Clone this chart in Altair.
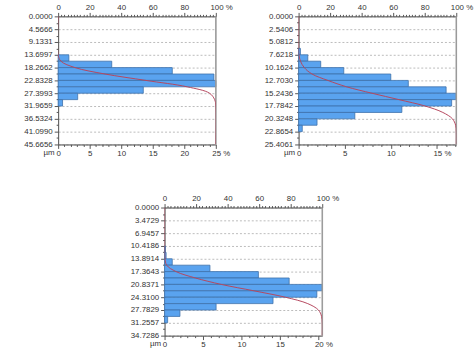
import altair as alt
import pandas as pd
import json

FONT = "Liberation Sans Narrow, Liberation Sans, Arial"

# ---------------- data ----------------
P1_TICKS = ["0.0000", "4.5666", "9.1331", "13.6997", "18.2662", "22.8328",
            "27.3993", "31.9659", "36.5324", "41.0990", "45.6656"]
P1_START = 6
P1_VALUES = [1.7, 8.5, 18.1, 24.7, 25.0, 13.5, 3.1, 0.7]
P1_XMAX = 25.0
P1_XLAST = 25

P2_TICKS = ["0.0000", "2.5406", "5.0812", "7.6218", "10.1624", "12.7030",
            "15.2436", "17.7842", "20.3248", "22.8654", "25.4061"]
P2_START = 5
P2_VALUES = [0.2, 1.0, 2.4, 4.9, 10.0, 11.9, 16.0, 17.1, 16.6, 11.2, 6.1, 2.0, 0.4]
P2_XMAX = 17.1
P2_XLAST = 15

P3_TICKS = ["0.0000", "3.4729", "6.9457", "10.4186", "13.8914", "17.3643",
            "20.8371", "24.3100", "27.7829", "31.2557", "34.7286"]
P3_START = 6
P3_VALUES = [0.1, 0.2, 1.0, 5.9, 12.2, 16.2, 20.5, 19.8, 14.1, 6.7, 2.0, 0.4]
P3_XMAX = 20.5
P3_XLAST = 20

CUM_TICKS = list(range(0, 101, 2))

W, H = 160, 130
LABEL = "#333333"
AXC = "#555555"


def panel(ticks, start, values, xmax, xlast):
    majors = [float(s) for s in ticks]
    edges = []
    for i in range(len(majors) - 1):
        edges.append(majors[i])
        edges.append((majors[i] + majors[i + 1]) / 2)
    edges.append(majors[-1])
    n = len(values)
    bars_df = pd.DataFrame({"lo": edges[start:start + n],
                            "hi": edges[start + 1:start + n + 1],
                            "pct": values})
    total = sum(values)
    cum = [0.0]
    for v in values:
        cum.append(cum[-1] + v / total * 100)
    curve_df = pd.DataFrame({"size": [0.0] + edges[start:start + n + 1] + [majors[-1]],
                             "cum": [0.0] + cum + [100.0]})

    major_test = "indexof(%s, datum.value) >= 0" % json.dumps(majors)
    ydom = [0, majors[-1]]
    yscale = alt.Scale(domain=ydom, reverse=True, nice=False, zero=False)

    yaxis = alt.Axis(
        values=edges, tickCount=len(edges), orient="left",
        labelExpr="%s ? format(datum.value, '.4f') : ''" % major_test,
        labelOverlap=False, labelFontSize=8, labelColor=LABEL, labelPadding=2,
        tickSize={"condition": {"test": major_test, "value": 4}, "value": 2},
        tickColor=AXC, domainColor=AXC,
        grid=True, gridDash=[2, 2], gridColor="#aaaaaa", gridWidth=0.8,
        gridOpacity={"condition": {"test": major_test, "value": 1}, "value": 0},
        title="µm", titleAngle=0, titleAlign="right", titleBaseline="top",
        titleX=-4, titleY=H + 4, titleFontSize=8, titleFontWeight="normal",
        titleColor=LABEL,
    )

    bt = "datum.value % 5 == 0"
    lt = "datum.value == %d" % xlast
    xvals = list(range(0, int(xmax) + 1))
    xaxis = alt.Axis(
        values=xvals, tickCount=len(xvals), orient="bottom",
        labelExpr="(" + bt + ") ? ((" + lt + ") ? datum.value + ' %' : datum.value + '') : ''",
        labelOverlap=False, labelFontSize=8, labelColor=LABEL, labelPadding=1,
        labelAlign={"condition": {"test": lt, "value": "left"}, "value": "center"},
        labelOffset={"condition": {"test": lt, "value": -4}, "value": 0},
        tickSize={"condition": {"test": bt, "value": 4}, "value": 2},
        tickColor=AXC, domainColor=AXC, grid=False, title=None,
    )

    tt = "datum.value % 20 == 0"
    tl = "datum.value == 100"
    taxis = alt.Axis(
        values=CUM_TICKS, tickCount=len(CUM_TICKS), orient="top",
        labelExpr="(" + tt + ") ? ((" + tl + ") ? datum.value + ' %' : datum.value + '') : ''",
        labelOverlap=False, labelFontSize=8, labelColor=LABEL, labelPadding=1,
        labelAlign={"condition": {"test": tl, "value": "left"}, "value": "center"},
        labelOffset={"condition": {"test": tl, "value": -6}, "value": 0},
        tickSize={"condition": {"test": tt, "value": 4}, "value": 2},
        tickColor=AXC, domainColor=AXC, grid=False, title=None,
    )

    bars = alt.Chart(bars_df).mark_rect(
        color="#5aa3ef", stroke="#3d70aa", strokeWidth=0.8
    ).encode(
        x=alt.X("pct:Q", scale=alt.Scale(domain=[0, xmax], nice=False), axis=xaxis),
        x2=alt.datum(0),
        y=alt.Y("lo:Q", scale=yscale, axis=yaxis),
        y2="hi:Q",
    )

    cscale = alt.Scale(domain=[0, 100], nice=False)
    rule = alt.Chart(curve_df).mark_rule(color="#9a9a9a", strokeWidth=1.5).encode(
        x=alt.X("m:Q", scale=cscale, axis=taxis),
    ).transform_aggregate(m="max(cum)")
    line = alt.Chart(curve_df).mark_line(
        color="#b5475e", strokeWidth=1, interpolate="catmull-rom", clip=True
    ).encode(
        x=alt.X("cum:Q", scale=cscale, axis=taxis),
        y=alt.Y("size:Q", scale=yscale),
        order=alt.Order("size:Q"),
    )
    top = alt.layer(rule, line)
    return alt.layer(bars, top).resolve_scale(x="independent").properties(width=W, height=H)


p1 = panel(P1_TICKS, P1_START, P1_VALUES, P1_XMAX, P1_XLAST)
p2 = panel(P2_TICKS, P2_START, P2_VALUES, P2_XMAX, P2_XLAST)
p3 = panel(P3_TICKS, P3_START, P3_VALUES, P3_XMAX, P3_XLAST)

spacer = alt.Chart(pd.DataFrame({"v": [0]})).mark_point(opacity=0).encode(
    x=alt.X("v:Q", axis=None), y=alt.Y("v:Q", axis=None)
).properties(width=72, height=H, view=alt.ViewBackground(strokeOpacity=0))

chart = alt.vconcat(
    alt.hconcat(p1, p2, spacing=30),
    alt.hconcat(spacer, p3, spacing=0),
    spacing=36,
).properties(
    padding={"left": 23, "top": 0, "right": 0, "bottom": 0}
).configure_view(strokeOpacity=0).configure(font=FONT)

chart.save("out.html", embed_options={"renderer": "svg", "actions": False})
